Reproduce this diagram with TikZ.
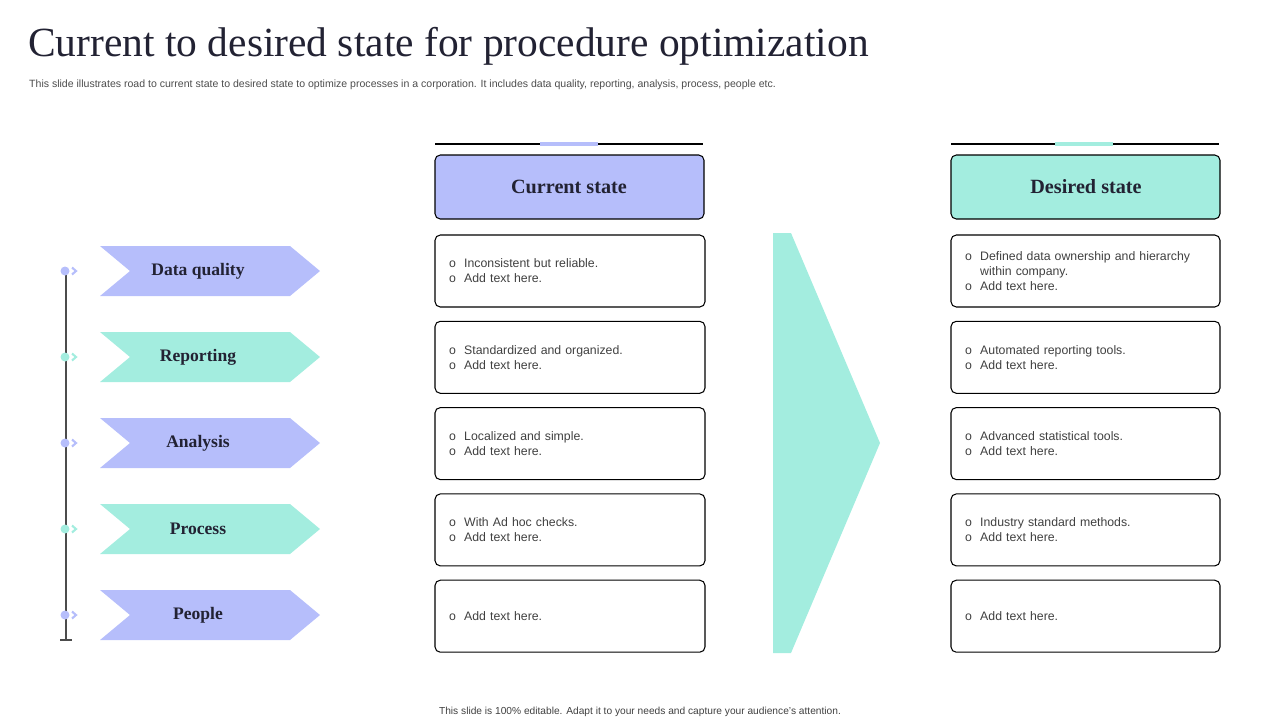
\documentclass[tikz,border=0pt]{standalone}
\usepackage{fontspec}
\setmainfont{Liberation Serif}
\setsansfont{Liberation Sans}
\usetikzlibrary{positioning}
\definecolor{lilac}{HTML}{B6BEFB}
\definecolor{mint}{HTML}{A3EDDF}
\definecolor{ink}{HTML}{222233}
\tikzset{
  chev/.style={fill=#1,draw=none},
  card/.style={draw=black,rounded corners=3pt,line width=0.6pt},
  cardtext/.style={anchor=west,font=\sffamily\fontsize{7}{8.5}\selectfont,text=black!75,align=left,text width=4.6cm},
  headtext/.style={font=\bfseries\fontsize{10}{12}\selectfont,text=ink},
}
\newcommand{\bul}{\makebox[0.3cm][l]{\scriptsize o}}
\begin{document}
\begin{tikzpicture}[x={(0.02cm,0)},y={(0,-0.02cm)}]
\useasboundingbox (0,0) rectangle (1280,720);
% title
\node[anchor=west,font=\fontsize{23.6}{28}\selectfont,text=ink] (title) at (22,46) {Current to desired state for procedure optimization};
\node[anchor=west,font=\sffamily\fontsize{6}{7}\selectfont,text=black!70] (sub) at (23,85) {This slide illustrates road to current state to desired state to optimize processes in a corporation. It includes data quality, reporting, analysis, process, people etc.};
% timeline
\draw[black!70,line width=0.7pt] (66,270) -- (66,640);
\draw[black!70,line width=0.7pt] (60,640) -- (72,640);
\foreach \lab/\col [count=\i from 0] in {Data quality/lilac,Reporting/mint,Analysis/lilac,Process/mint,People/lilac}{
  \pgfmathsetmacro{\yc}{271+86*\i}
  \fill[\col] (65,\yc) circle (4.5);
  \draw[\col,line width=1.2pt] (72,\yc-3.5) -- (76,\yc) -- (72,\yc+3.5);
  \fill[\col] (100,\yc-25) -- (290,\yc-25) -- (320,\yc) -- (290,\yc+25) -- (100,\yc+25) -- (130,\yc) -- cycle;
  \node[headtext] (lab\i) at (198,\yc) {\lab};
}
% headers
\draw[line width=0.6pt] (435,144) -- (703,144);
\draw[lilac,line width=2.5pt] (540,144) -- (598,144);
\draw[card,fill=lilac] (435,155) rectangle (704,219);
\node[headtext,font=\bfseries\fontsize{11.5}{14}\selectfont] (cur) at (569,187) {Current state};
\draw[line width=0.6pt] (951,144) -- (1219,144);
\draw[mint,line width=2.5pt] (1055,144) -- (1113,144);
\draw[card,fill=mint] (951,155) rectangle (1220,219);
\node[headtext,font=\bfseries\fontsize{11.5}{14}\selectfont] (des) at (1086,187) {Desired state};
% big arrow
\fill[mint] (773,233) -- (791,233) -- (880,443) -- (791,653) -- (773,653) -- cycle;
% cards
\foreach \ct/\dt [count=\i from 0] in {
  {\bul Inconsistent but reliable.\\\bul Add text here.}/{\bul Defined data ownership and hierarchy\\\hspace*{0.3cm}within company.\\\bul Add text here.},
  {\bul Standardized  and organized.\\\bul Add text here.}/{\bul Automated reporting tools.\\\bul Add text here.},
  {\bul Localized and simple.\\\bul Add text here.}/{\bul Advanced statistical tools.\\\bul Add text here.},
  {\bul With Ad hoc checks.\\\bul Add text here.}/{\bul Industry standard methods.\\\bul Add text here.},
  {\bul Add text here.}/{\bul Add text here.}}{
  \pgfmathsetmacro{\yt}{235+86.3*\i}
  \draw[card] (435,\yt) rectangle (705,\yt+72);
  \draw[card] (951,\yt) rectangle (1220,\yt+72);
  \node[cardtext] (c\i) at (443,\yt+36) {\ct};
  \node[cardtext] (d\i) at (959,\yt+36) {\dt};
}
\node[font=\sffamily\fontsize{5.8}{6}\selectfont,text=black!75] (foot) at (640,712) {This slide is 100\% editable.  Adapt it to your needs and capture your audience's attention.};
\end{tikzpicture}
\end{document}
